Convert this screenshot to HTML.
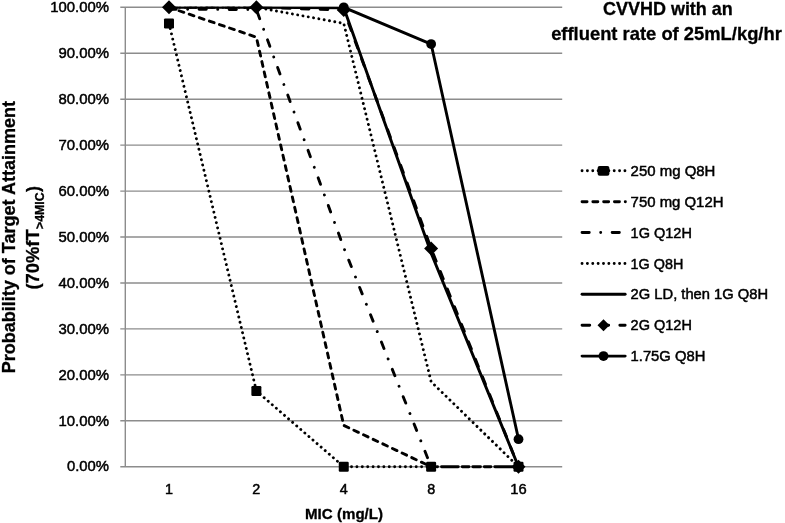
<!DOCTYPE html>
<html lang="en"><head><meta charset="utf-8"><title>CVVHD probability of target attainment</title>
<style>
html,body{margin:0;padding:0;background:#fff;}
body{width:785px;height:523px;overflow:hidden;}
svg{display:block;}
text{font-family:"Liberation Sans",Arial,sans-serif;fill:#000;stroke:#000;stroke-width:0.5px;}
.b{stroke-width:0.3px;}
.b{font-weight:bold;}
</style></head><body>
<svg width="785" height="523" viewBox="0 0 785 523">
<rect width="785" height="523" fill="#fff"/>
<g stroke="#8c8c8c" stroke-width="1.4" fill="none">
<path d="M120.3 466.75H562.2"/>
<path d="M120.3 420.81H562.2"/>
<path d="M120.3 374.86H562.2"/>
<path d="M120.3 328.91H562.2"/>
<path d="M120.3 282.97H562.2"/>
<path d="M120.3 237.03H562.2"/>
<path d="M120.3 191.08H562.2"/>
<path d="M120.3 145.13H562.2"/>
<path d="M120.3 99.19H562.2"/>
<path d="M120.3 53.25H562.2"/>
<path d="M120.3 7.30H562.2"/>
<path d="M125.30 7.30V466.75"/>
</g>
<text x="109.0" y="471.45" font-size="15.3" text-anchor="end" textLength="42.0" lengthAdjust="spacingAndGlyphs">0.00%</text>
<text x="109.0" y="425.50" font-size="15.3" text-anchor="end" textLength="50.6" lengthAdjust="spacingAndGlyphs">10.00%</text>
<text x="109.0" y="379.56" font-size="15.3" text-anchor="end" textLength="50.6" lengthAdjust="spacingAndGlyphs">20.00%</text>
<text x="109.0" y="333.61" font-size="15.3" text-anchor="end" textLength="50.6" lengthAdjust="spacingAndGlyphs">30.00%</text>
<text x="109.0" y="287.67" font-size="15.3" text-anchor="end" textLength="50.6" lengthAdjust="spacingAndGlyphs">40.00%</text>
<text x="109.0" y="241.72" font-size="15.3" text-anchor="end" textLength="50.6" lengthAdjust="spacingAndGlyphs">50.00%</text>
<text x="109.0" y="195.78" font-size="15.3" text-anchor="end" textLength="50.6" lengthAdjust="spacingAndGlyphs">60.00%</text>
<text x="109.0" y="149.83" font-size="15.3" text-anchor="end" textLength="50.6" lengthAdjust="spacingAndGlyphs">70.00%</text>
<text x="109.0" y="103.89" font-size="15.3" text-anchor="end" textLength="50.6" lengthAdjust="spacingAndGlyphs">80.00%</text>
<text x="109.0" y="57.95" font-size="15.3" text-anchor="end" textLength="50.6" lengthAdjust="spacingAndGlyphs">90.00%</text>
<text x="109.0" y="12.00" font-size="15.3" text-anchor="end" textLength="58.8" lengthAdjust="spacingAndGlyphs">100.00%</text>
<text x="168.99" y="493.5" font-size="15.3" text-anchor="middle" textLength="8.0" lengthAdjust="spacingAndGlyphs">1</text>
<text x="256.37" y="493.5" font-size="15.3" text-anchor="middle" textLength="8.0" lengthAdjust="spacingAndGlyphs">2</text>
<text x="343.75" y="493.5" font-size="15.3" text-anchor="middle" textLength="8.0" lengthAdjust="spacingAndGlyphs">4</text>
<text x="431.13" y="493.5" font-size="15.3" text-anchor="middle" textLength="8.0" lengthAdjust="spacingAndGlyphs">8</text>
<text x="518.51" y="493.5" font-size="15.3" text-anchor="middle" textLength="16.4" lengthAdjust="spacingAndGlyphs">16</text>
<text class="b" x="344.05" y="519.2" font-size="15.3" text-anchor="middle" textLength="78.1" lengthAdjust="spacingAndGlyphs">MIC (mg/L)</text>
<text class="b" transform="translate(14.5 373.3) rotate(-90)" font-size="18.6" textLength="272.4" lengthAdjust="spacingAndGlyphs">Probability of Target Attainment</text>
<text class="b" transform="translate(38.6 289.6) rotate(-90)" font-size="18.6" textLength="60.3" lengthAdjust="spacingAndGlyphs">(70%fT</text>
<text class="b" transform="translate(44.1 229.0) rotate(-90)" font-size="12.4" textLength="36.6" lengthAdjust="spacingAndGlyphs">&gt;4MIC</text>
<text class="b" transform="translate(38.6 192.0) rotate(-90)" font-size="18.6" textLength="6.0" lengthAdjust="spacingAndGlyphs">)</text>
<text class="b" x="667.9" y="15.2" font-size="18.6" text-anchor="middle" textLength="129.8" lengthAdjust="spacingAndGlyphs">CVVHD with an</text>
<text class="b" x="666.5" y="40.0" font-size="18.6" text-anchor="middle" textLength="230.7" lengthAdjust="spacingAndGlyphs">effluent rate of 25mL/kg/hr</text>
<clipPath id="pc"><rect x="125.3" y="6.7" width="436.9" height="480"/></clipPath>
<g fill="none" stroke="#000" stroke-width="2.9" stroke-linecap="round" stroke-linejoin="round" clip-path="url(#pc)">
<path d="M168.99 23.38L256.37 390.94L343.75 466.75L431.13 466.75" stroke-dasharray="0.01 5.38"/>
<path d="M168.99 7.30L256.37 37.16L343.75 425.40L431.13 466.75" stroke-dasharray="5.00 5.67"/>
<path d="M436.95 466.75H437.55M441.55 466.75H458.25M462.25 466.75H468.95M472.85 466.75H480.45M484.35 466.75H490.85M494.85 466.75H514.55"/>
<path d="M168.99 9.14L256.37 9.60" stroke-dasharray="7.20 11.445 0.01 11.445" stroke-dashoffset="0"/>
<path d="M256.37 9.60L343.75 247.59" stroke-dasharray="6.90 11.245 0.01 11.245" stroke-dashoffset="-2.83"/>
<path d="M343.75 247.59L431.13 466.75" stroke-dasharray="6.90 11.245 0.01 11.245" stroke-dashoffset="-13.5"/>
<path d="M168.99 7.30L256.37 7.30L343.75 23.38L431.13 381.75L518.51 466.75" stroke-dasharray="0.01 5.38"/>
<path d="M168.99 7.30L256.37 7.30L343.75 7.85L431.13 253.11L518.51 466.75" />
<path d="M168.99 7.30L256.37 7.30L343.75 10.06L431.13 248.51L518.51 466.75" stroke-dasharray="7.70 11.20"/>
<path d="M343.75 7.30L431.13 44.06L518.51 439.18" />
</g>
<rect x="163.99" y="18.38" width="10.00" height="10.00" rx="1.2" fill="#000"/>
<rect x="251.37" y="385.94" width="10.00" height="10.00" rx="1.2" fill="#000"/>
<rect x="338.75" y="461.75" width="10.00" height="10.00" rx="1.2" fill="#000"/>
<rect x="426.13" y="461.75" width="10.00" height="10.00" rx="1.2" fill="#000"/>
<rect x="513.51" y="461.75" width="10.00" height="10.00" rx="1.2" fill="#000"/>
<path d="M168.99 0.30L175.99 7.30L168.99 14.30L161.99 7.30Z" fill="#000"/>
<path d="M256.37 0.30L263.37 7.30L256.37 14.30L249.37 7.30Z" fill="#000"/>
<path d="M343.75 3.06L350.75 10.06L343.75 17.06L336.75 10.06Z" fill="#000"/>
<path d="M431.13 241.51L438.13 248.51L431.13 255.51L424.13 248.51Z" fill="#000"/>
<path d="M518.51 459.75L525.51 466.75L518.51 473.75L511.51 466.75Z" fill="#000"/>
<circle cx="343.75" cy="7.30" r="4.90" fill="#000"/>
<circle cx="431.13" cy="44.06" r="4.90" fill="#000"/>
<circle cx="518.51" cy="439.18" r="4.90" fill="#000"/>
<g fill="none" stroke="#000" stroke-width="2.9" stroke-linecap="round">
<path d="M582.05 170.80H625.15" stroke-dasharray="0.01 5.35"/>
<path d="M582.05 201.68H625.40" stroke-dasharray="5.00 5.80"/>
<path d="M582.05 232.56H625.15" stroke-dasharray="7.20 11.445 0.01 11.445"/>
<path d="M582.05 263.44H625.15" stroke-dasharray="0.01 5.35"/>
<path d="M582.05 294.32H625.15" />
<path d="M582.05 325.20H625.15" stroke-dasharray="7.70 11.20"/>
<path d="M582.05 356.08H625.15" />
</g>
<rect x="597.6" y="165.90" width="11.8" height="9.8" rx="2" fill="#000"/>
<text x="630.6" y="175.90" font-size="15.3" textLength="84.8" lengthAdjust="spacingAndGlyphs">250 mg Q8H</text>
<text x="630.6" y="206.78" font-size="15.3" textLength="92.9" lengthAdjust="spacingAndGlyphs">750 mg Q12H</text>
<text x="630.6" y="237.66" font-size="15.3" textLength="61.3" lengthAdjust="spacingAndGlyphs">1G Q12H</text>
<text x="630.6" y="268.54" font-size="15.3" textLength="52.7" lengthAdjust="spacingAndGlyphs">1G Q8H</text>
<text x="630.6" y="299.42" font-size="15.3" textLength="137.5" lengthAdjust="spacingAndGlyphs">2G LD, then 1G Q8H</text>
<path d="M603.50 319.18L609.52 325.20L603.50 331.22L597.48 325.20Z" fill="#000"/>
<text x="630.6" y="330.30" font-size="15.3" textLength="61.3" lengthAdjust="spacingAndGlyphs">2G Q12H</text>
<circle cx="603.50" cy="356.08" r="4.90" fill="#000"/>
<text x="630.6" y="361.18" font-size="15.3" textLength="74.7" lengthAdjust="spacingAndGlyphs">1.75G Q8H</text>
</svg></body></html>
